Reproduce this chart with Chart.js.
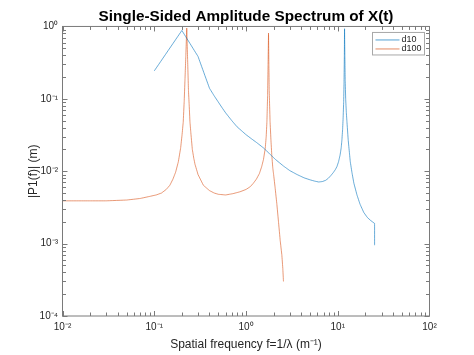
<!DOCTYPE html>
<html><head><meta charset="utf-8">
<script src="https://cdn.jsdelivr.net/npm/chart.js@4.4.1/dist/chart.umd.min.js"></script>
<style>html,body{margin:0;padding:0;background:#fff;}</style>
</head><body>
<canvas id="c" width="474" height="355" style="width:474px;height:355px;display:block"></canvas>
<script>
const xTickValues = [0.01, 0.1, 1, 10, 100];
const xTickLabels = ['10⁻²', '10⁻¹', '10⁰', '10¹', '10²'];
const yTickValues = [0.0001, 0.001, 0.01, 0.1, 1];
const yTickLabels = ['10⁻⁴', '10⁻³', '10⁻²', '10⁻¹', '10⁰'];

const seriesNames = ['d10', 'd100'];

const d10Freq = [0.1, 0.2, 0.3, 0.4, 0.45, 0.5, 0.55, 0.6, 0.7, 0.8, 0.9, 1.0, 1.15, 1.3, 1.55, 1.8, 2.1, 2.56, 3.0, 3.6, 4.3, 5.0, 5.6, 6.2, 6.8, 7.4, 7.9, 8.4, 8.9, 9.4, 9.8, 10.2, 10.6, 10.9, 11.1, 11.3, 11.45, 11.6, 11.7, 11.8, 11.86, 11.95, 12.05, 12.2, 12.4, 12.6, 13.0, 13.4, 13.7, 14.3, 15.0, 16.2, 17.5, 19.2, 21.0, 22.7, 25.2, 25.2];
const d10Amp  = [0.243, 0.88, 0.385, 0.14, 0.11, 0.09, 0.075, 0.064, 0.05, 0.041, 0.036, 0.032, 0.028, 0.025, 0.021, 0.0175, 0.0145, 0.0118, 0.0102, 0.0090, 0.0081, 0.0076, 0.0073, 0.0071, 0.0072, 0.0075, 0.0080, 0.0087, 0.0095, 0.0105, 0.0116, 0.0135, 0.0167, 0.021, 0.027, 0.038, 0.055, 0.09, 0.16, 0.4, 0.93, 0.4, 0.18, 0.1, 0.065, 0.048, 0.027, 0.018, 0.0135, 0.0095, 0.0068, 0.0047, 0.0035, 0.0027, 0.0023, 0.0021, 0.0019, 0.00095];

const d100Freq = [0.01, 0.02, 0.03, 0.05, 0.07, 0.09, 0.105, 0.12, 0.135, 0.148, 0.16, 0.171, 0.183, 0.194, 0.201, 0.207, 0.212, 0.216, 0.221, 0.226, 0.231, 0.236, 0.24, 0.245, 0.25, 0.26, 0.27, 0.278, 0.3, 0.343, 0.4, 0.45, 0.5, 0.6, 0.72, 0.86, 1.0, 1.11, 1.2, 1.3, 1.4, 1.48, 1.55, 1.62, 1.66, 1.69, 1.72, 1.74, 1.76, 1.775, 1.79, 1.83, 1.87, 1.91, 1.96, 2.0, 2.08, 2.17, 2.26, 2.36, 2.46, 2.52, 2.56];
const d100Amp  = [0.0039, 0.0039, 0.0039, 0.0040, 0.0042, 0.0045, 0.0047, 0.0050, 0.0056, 0.0064, 0.0078, 0.0097, 0.0135, 0.021, 0.032, 0.048, 0.092, 0.177, 0.4, 0.95, 0.35, 0.13, 0.085, 0.048, 0.035, 0.02, 0.015, 0.0125, 0.009, 0.0064, 0.0054, 0.005, 0.0048, 0.0047, 0.0049, 0.0052, 0.0056, 0.0061, 0.0068, 0.0078, 0.0093, 0.0115, 0.0145, 0.0206, 0.03, 0.048, 0.11, 0.3, 0.81, 0.3, 0.13, 0.048, 0.027, 0.0167, 0.011, 0.009, 0.0058, 0.0035, 0.002, 0.0011, 0.00069, 0.00045, 0.0003];

const FONT = '"Liberation Sans", Arial, Helvetica, sans-serif';
const TXT = '#262626';

function pts(xs, ys) { return xs.map((v, i) => ({x: v, y: ys[i]})); }

const boxTicks = {
  id: 'boxTicks',
  afterDatasetsDraw(chart) {
    const {ctx, chartArea: a, scales: {x, y}} = chart;
    ctx.save();
    ctx.strokeStyle = '#7a7a7a';
    ctx.lineWidth = 1;
    ctx.beginPath();
    for (let e = -2; e < 2; e++) {
      for (let m = 1; m < 10; m++) {
        const v = m * Math.pow(10, e);
        const px = Math.round(x.getPixelForValue(v)) + 0.5;
        const L = m === 1 ? 5 : 3.5;
        ctx.moveTo(px, a.bottom); ctx.lineTo(px, a.bottom - L);
        ctx.moveTo(px, a.top); ctx.lineTo(px, a.top + L);
      }
    }
    for (let e = -4; e < 0; e++) {
      for (let m = 1; m < 10; m++) {
        const v = m * Math.pow(10, e);
        const py = Math.round(y.getPixelForValue(v)) + 0.5;
        const L = m === 1 ? 5 : 3.5;
        ctx.moveTo(a.left, py); ctx.lineTo(a.left + L, py);
        ctx.moveTo(a.right, py); ctx.lineTo(a.right - L, py);
      }
    }
    ctx.stroke();
    ctx.strokeRect(a.left, a.top, a.right - a.left, a.bottom - a.top);
    ctx.restore();
  }
};

const legendBox = {
  id: 'legendBox',
  afterDraw(chart) {
    const {ctx, chartArea: a} = chart;
    const w = 52, h = 22.5;
    const x0 = a.right - 5 - w, y0 = a.top + 6;
    ctx.save();
    ctx.fillStyle = '#fff';
    ctx.fillRect(x0, y0, w, h);
    ctx.strokeStyle = '#a8a8a8';
    ctx.lineWidth = 1;
    ctx.strokeRect(x0, y0, w, h);
    ctx.font = '9px ' + FONT;
    ctx.textBaseline = 'middle';
    chart.data.datasets.forEach((ds, i) => {
      const yy = y0 + 7.5 + i * 9;
      ctx.strokeStyle = ds.borderColor;
      ctx.lineWidth = 0.8;
      ctx.beginPath(); ctx.moveTo(x0 + 3, yy); ctx.lineTo(x0 + 27, yy); ctx.stroke();
      ctx.fillStyle = TXT;
      ctx.fillText(ds.label, x0 + 29, yy);
    });
    ctx.restore();
  }
};

new Chart(document.getElementById('c'), {
  type: 'scatter',
  data: {
    datasets: [
      {label: seriesNames[0], data: pts(d10Freq, d10Amp), showLine: true, borderColor: 'rgba(0,114,189,0.85)', borderWidth: 0.7, pointRadius: 0, tension: 0.001},
      {label: seriesNames[1], data: pts(d100Freq, d100Amp), showLine: true, borderColor: 'rgba(217,83,25,0.85)', borderWidth: 0.7, pointRadius: 0, tension: 0.001}
    ]
  },
  options: {
    responsive: false,
    animation: false,
    devicePixelRatio: 1,
    layout: {padding: {left: 0, right: 44.5, top: 0, bottom: 0}},
    plugins: {
      legend: {display: false},
      tooltip: {enabled: false},
      title: {
        display: true,
        fullSize: false,
        text: 'Single-Sided Amplitude Spectrum of X(t)',
        color: '#000',
        font: {family: FONT, size: 15.3, weight: 'bold', lineHeight: 1.2},
        padding: {top: 7.5, bottom: 0.6}
      }
    },
    scales: {
      x: {
        type: 'logarithmic', position: 'bottom', min: 0.01, max: 100,
        grid: {display: false, drawTicks: false},
        border: {display: false},
        afterBuildTicks: s => { s.ticks = xTickValues.map(v => ({value: v})); },
        afterFit: s => { s.height = 39; },
        ticks: {
          autoSkip: false, maxRotation: 0, padding: 5,
          color: TXT, font: {family: FONT, size: 10},
          callback: v => { const i = xTickValues.findIndex(t => Math.abs(t - v) / t < 1e-6); return i >= 0 ? xTickLabels[i] : ''; }
        },
        title: {display: true, text: 'Spatial frequency f=1/λ (m⁻¹)', color: TXT, font: {family: FONT, size: 12}, padding: {top: 0, bottom: 3}}
      },
      y: {
        type: 'logarithmic', position: 'left', min: 0.0001, max: 1,
        grid: {display: false, drawTicks: false},
        border: {display: false},
        afterBuildTicks: s => { s.ticks = yTickValues.map(v => ({value: v})); },
        afterFit: s => { s.width = 62.5; },
        ticks: {
          autoSkip: false, padding: 4.5,
          color: TXT, font: {family: FONT, size: 10},
          callback: v => { const i = yTickValues.findIndex(t => Math.abs(t - v) / t < 1e-6); return i >= 0 ? yTickLabels[i] : ''; }
        },
        title: {display: true, text: '|P1(f)| (m)', color: TXT, font: {family: FONT, size: 12}, padding: {top: 26, bottom: 0}}
      }
    }
  },
  plugins: [boxTicks, legendBox]
});
</script>
</body></html>
